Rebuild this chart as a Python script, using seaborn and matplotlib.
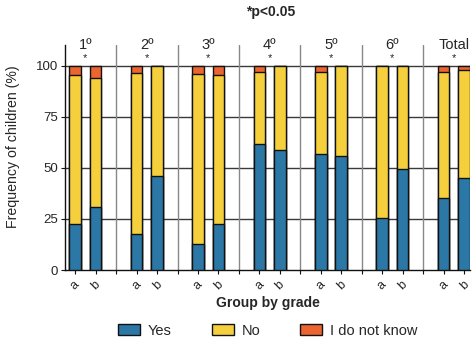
import numpy as np
import pandas as pd
import seaborn as sns
import matplotlib
matplotlib.use("Agg")
import matplotlib.pyplot as plt
from matplotlib.patches import Patch

grades = ["1º", "2º", "3º", "4º", "5º", "6º", "Total"]
groups = ["a", "b"]
yes_a = [22.5, 17.5, 12.6, 61.7, 56.8, 25.6, 35.1]
yes_b = [31.0, 46.0, 22.5, 58.7, 55.8, 49.3, 45.0]
no_a = [72.9, 78.7, 83.3, 35.0, 39.9, 74.4, 61.6]
no_b = [62.8, 54.0, 72.9, 41.3, 44.2, 50.7, 52.9]
idk_a = [4.6, 3.8, 4.1, 3.3, 3.3, 0.0, 3.3]
idk_b = [6.2, 0.0, 4.6, 0.0, 0.0, 0.0, 2.1]
yticks = [0, 25, 50, 75, 100]
legend_labels = ["Yes", "No", "I do not know"]

sns.set_style("white")
plt.rcParams['font.family'] = ['Liberation Sans', 'DejaVu Sans']

C_YES = "#2b78a6"
C_NO = "#f6d03c"
C_IDK = "#ec6430"
EDGE = "#111111"

rows = []
for i, g in enumerate(grades):
    for j, (ys, ns, ks) in enumerate([(yes_a, no_a, idk_a), (yes_b, no_b, idk_b)]):
        rows.append({"pos": 3 * i + j, "grade": g, "group": groups[j],
                     "yes": ys[i], "no": ns[i], "idk": ks[i]})
df = pd.DataFrame(rows)
df["c_yes"] = df["yes"]
df["c_no"] = df["yes"] + df["no"]
df["c_idk"] = df["yes"] + df["no"] + df["idk"]

fig = plt.figure(figsize=(4.74, 3.39), dpi=100)
ax = fig.add_axes([0.137, 0.2035, 0.855, 0.6635])

for col, c in [("c_idk", C_IDK), ("c_no", C_NO), ("c_yes", C_YES)]:
    sns.barplot(data=df, x="pos", y=col, native_scale=True, color=c,
                width=0.57, edgecolor=EDGE, linewidth=1.0, saturation=1,
                errorbar=None, ax=ax, zorder=3)

ax.set_xlim(-0.5, 19.3)
ax.set_ylim(0, 110)
ax.set_yticks(yticks)
ax.set_yticklabels([str(t) for t in yticks], fontsize=9.5)

for t in [25, 50, 75, 100]:
    ax.axhline(t, color="#3a3a3a", lw=1.0, zorder=1)

ticks = []
labels = []
for i in range(len(grades)):
    ticks += [3 * i, 3 * i + 1]
    labels += groups
    if i < len(grades) - 1:
        ticks.append(3 * i + 2)
        labels.append("")
        ax.axvline(3 * i + 2, color="#888888", lw=1.0, zorder=1)
ax.set_xticks(ticks)
ax.set_xticklabels(labels, rotation=45, fontsize=9, ha="center")
ax.tick_params(axis="both", which="both", direction="out", length=3, width=0.8,
               color="#111111", pad=2, bottom=True, left=True)
ax.tick_params(axis="x", pad=3)

for i, g in enumerate(grades):
    ax.text(3 * i + 0.5, 109.8, g, ha="center", va="center", fontsize=10.5)
    ax.text(3 * i + 0.5, 103.5, "*", ha="center", va="center", fontsize=8)

for s in ["top", "right"]:
    ax.spines[s].set_visible(False)
for s in ["left", "bottom"]:
    ax.spines[s].set_color("#111111")
    ax.spines[s].set_linewidth(1.0)

ax.set_xlabel("Group by grade", fontsize=10, fontweight="bold", labelpad=3)
ax.set_ylabel("Frequency of children (%)", fontsize=10.2, labelpad=3)
ax.yaxis.set_label_coords(-0.11, 0.55)
fig.text(0.57, 0.965, "*p<0.05", ha="center", va="center", fontsize=10, fontweight="bold")

handles = [Patch(facecolor=c, edgecolor=EDGE, linewidth=1.0) for c in (C_YES, C_NO, C_IDK)]
fig.legend(handles, legend_labels, loc="lower center", bbox_to_anchor=(0.565, -0.035),
           ncol=3, frameon=False, fontsize=10.5, handlelength=1.5, handleheight=0.8,
           columnspacing=2.75, handletextpad=0.55)

fig.savefig("out.png", dpi=100)
